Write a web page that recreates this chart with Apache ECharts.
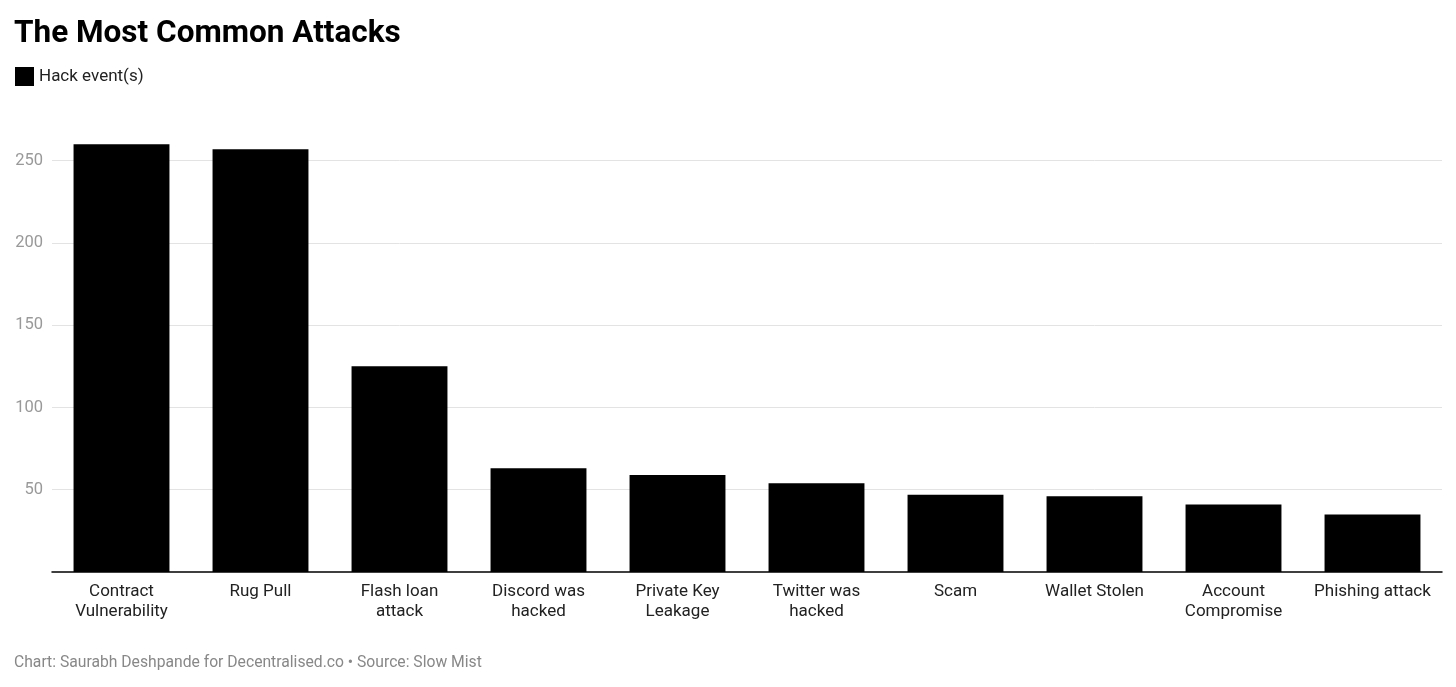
<!DOCTYPE html>
<html>
<head>
<meta charset="utf-8">
<script src="https://cdn.jsdelivr.net/npm/echarts@6/dist/echarts.min.js"></script>
<style>
html,body{margin:0;padding:0;background:#fff;}
#c{width:1456px;height:687px;}
</style>
</head>
<body>
<div id="c"></div>
<script>
const categories = ["Contract\nVulnerability","Rug Pull","Flash loan\nattack","Discord was\nhacked","Private Key\nLeakage","Twitter was\nhacked","Scam","Wallet Stolen","Account\nCompromise","Phishing attack"];
const hackEvents = [260,257,125,63,59,54,47,46,41,35];
const seriesName = "Hack event(s)";
const titleText = "The Most Common Attacks";
const footerText = "Chart: Saurabh Deshpande for Decentralised.co \u2022 Source: Slow Mist";

const chart = echarts.init(document.getElementById('c'));
chart.setOption({
  animation:false,
  backgroundColor:'#fff',
  textStyle:{fontFamily:'Roboto'},
  title:[{
    text:titleText,left:14,top:18,padding:0,
    textStyle:{fontFamily:'Roboto',fontSize:31.5,fontWeight:'bold',color:'#000'}
  },{
    text:footerText,left:14,top:655,padding:0,
    textStyle:{fontFamily:'Roboto',fontSize:15.7,fontWeight:'normal',color:'#888'}
  }],
  legend:{
    left:15,top:67,padding:0,itemWidth:19,itemHeight:19,itemGap:10,
    icon:'rect',
    textStyle:{fontFamily:'Roboto',fontSize:17,color:'#222'},
    data:[seriesName]
  },
  grid:{left:52,right:14,top:136,bottom:115,containLabel:false},
  xAxis:{
    type:'category',data:categories,
    axisLine:{lineStyle:{color:'#000',width:1.5}},
    axisTick:{show:false},
    axisLabel:{fontFamily:'Roboto',fontSize:17,color:'#222',lineHeight:20,margin:10,interval:0}
  },
  yAxis:{
    type:'value',min:0,max:265,interval:50,
    axisLine:{show:false},axisTick:{show:false},
    axisLabel:{fontFamily:'Roboto',fontSize:16.5,color:'#999',margin:9,showMinLabel:false,showMaxLabel:false},
    splitLine:{lineStyle:{color:'#e3e3e3',width:1},showMinLine:false,showMaxLine:false}
  },
  series:[{
    name:seriesName,type:'bar',data:hackEvents,
    barCategoryGap:'31%',
    itemStyle:{color:'#000'}
  }]
});
</script>
</body>
</html>
